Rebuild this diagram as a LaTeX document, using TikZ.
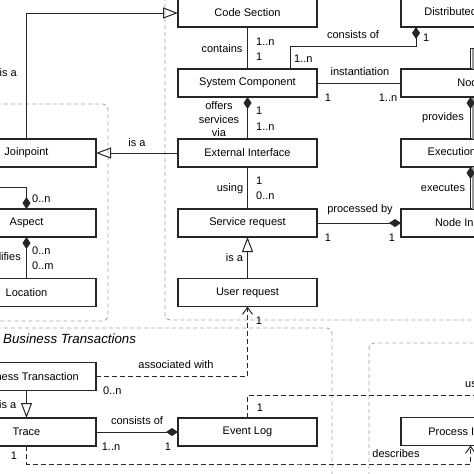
\documentclass[tikz,border=0pt]{standalone}
\usepackage{fontspec}
\setmainfont{Liberation Sans}
\usetikzlibrary{arrows.meta}
\begin{document}
\begin{tikzpicture}[x=1pt,y=-1pt,
  box/.style={draw=black!85, line width=1.1pt, minimum width=139pt, minimum height=28pt, inner sep=0pt, outer sep=0pt, font=\fontsize{11}{13}\selectfont},
  lbl/.style={inner sep=0pt, font=\fontsize{11}{13}\selectfont},
  conn/.style={draw=black!85, line width=1pt},
  dep/.style={conn, dash pattern=on 5pt off 3pt},
  region/.style={draw=black!35, line width=0.9pt, dash pattern=on 4pt off 3pt, rounded corners=5pt},
  gen/.style={-{Triangle[open,length=15pt,width=11pt,line width=1pt]}},
  comp/.style={-{Diamond[length=12pt,width=8pt]}},
  barb/.style={-{Straight Barb[length=7pt,width=10pt,line width=1pt]}}]
\useasboundingbox (0,0) rectangle (474,474);
\clip (0,0) rectangle (474,474);
\fill[white] (0,0) rectangle (474,474);

% regions
\draw[region] (-10,104) -- (108,104) -- (108,321) -- (-10,321);
\draw[region] (165,-10) -- (165,320) -- (490,320);
\draw[region] (-10,328) -- (332,328) -- (332,490);
\draw[region] (369,490) -- (369,343) -- (490,343);

% boxes
\node[box] (cs)   at (247.5,13)    {Code Section};
\node[box] (ds)   at (470.5,13)    {Distributed System};
\node[box] (sc)   at (247.5,83)    {System Component};
\node[box] (nd)   at (470.5,83)    {Node};
\node[box] (ei)   at (247.5,153)   {External Interface};
\node[box] (exe)  at (470.5,153)   {Execution Engine};
\node[box] (sr)   at (247.5,223)   {Service request};
\node[box] (ni)   at (470.5,223)   {Node Instance};
\node[box] (ur)   at (247.5,292.5) {User request};
\node[box] (jp)   at (26.5,153)    {Joinpoint};
\node[box] (asp)  at (26.5,223)    {Aspect};
\node[box] (loc)  at (26.5,292.5)  {Location};
\node[box] (bt)   at (26.5,376.5)  {Business Transaction};
\node[box] (tr)   at (26.5,432)    {Trace};
\node[box] (el)   at (247.5,432)   {Event Log};
\node[box] (pi)   at (470.5,431.5) {Process Instance};

% right edge strips
\fill[black!40] (472,48) rectangle (474,69);
\fill[black!40] (472,98) rectangle (474,139);
\fill[black!40] (472,167) rectangle (474,209);

% coordinates for free ends
\coordinate (dn) at (480,48);
\coordinate (aspin) at (-10,187);
\coordinate (dsc) at (300,464);
\coordinate (uc) at (480,395);

% connectors
\draw[conn] (sc.north) -- (cs.south);
\draw[conn,comp] ([xshift=43pt]sc.north) |- (416,46) -- ([xshift=-54.5pt]ds.south);
\draw[conn] (sc.east) -- (nd.west);
\draw[conn] (dn) -| (nd.north);
\draw[conn,comp] (exe.north) -- (nd.south);
\draw[conn,comp] (ni.north) -- (exe.south);
\draw[conn,comp] (ei.north) -- (sc.south);
\draw[conn,gen] (jp.north) |- (cs.west);
\draw[conn,gen] (ei.west) -- (jp.east);
\draw[conn] (ei.south) -- (sr.north);
\draw[conn,comp] (sr.east) -- (ni.west);
\draw[conn,gen] (ur.north) -- (sr.south);
\draw[conn,comp] (aspin) -| (asp.north);
\draw[conn,comp] (loc.north) -- (asp.south);
\draw[dep,barb] (bt.east) -| (ur.south);
\draw[conn,gen] (bt.south) -- (tr.north);
\draw[conn,comp] (tr.east) -- (el.west);
\draw[dep,barb] (tr.south) |- (dsc) -| (pi.south);
\draw[dep] (el.north) |- (uc);

% labels
\node[lbl] at (222,49) {contains};
\node[lbl,anchor=west] at (256,42) {1..n};
\node[lbl,anchor=west] at (256,57) {1};
\node[lbl] at (353,35) {consists of};
\node[lbl,anchor=west] at (423,38) {1};
\node[lbl,anchor=west] at (294,59) {1..n};
\node[lbl] at (360,72) {instantiation};
\node[lbl] at (328,98) {1};
\node[lbl] at (388,98) {1..n};
\node[lbl,align=center,font=\fontsize{11}{13.5}\selectfont] at (219,119.5) {offers\\services\\via};
\node[lbl,anchor=west] at (256,111) {1};
\node[lbl,anchor=west] at (256,127) {1..n};
\node[lbl] at (137,143) {is a};
\node[lbl,anchor=east] at (17,73) {is a};
\node[lbl] at (230,189) {using};
\node[lbl,anchor=west] at (256,181) {1};
\node[lbl,anchor=west] at (256,196) {0..n};
\node[lbl] at (360,210) {processed by};
\node[lbl] at (328,238) {1};
\node[lbl] at (392,238) {1};
\node[lbl] at (234.5,258) {is a};
\node[lbl] at (443,118) {provides};
\node[lbl] at (443,188) {executes};
\node[lbl,anchor=west] at (32,199) {0..n};
\node[lbl,anchor=west] at (32,251) {0..n};
\node[lbl,anchor=west] at (32,266) {0..m};
\node[lbl,anchor=east] at (21,258) {qualifies};
\node[lbl,anchor=west,font=\fontsize{13.3}{15}\selectfont\itshape] at (3,339) {Business Transactions};
\node[lbl] at (176,365) {associated with};
\node[lbl,anchor=west] at (103,391) {0..n};
\node[lbl] at (259,321) {1};
\node[lbl,anchor=east] at (16.5,405) {is a};
\node[lbl] at (137,421) {consists of};
\node[lbl] at (111,447) {1..n};
\node[lbl] at (168,447) {1};
\node[lbl] at (14,456) {1};
\node[lbl] at (260,408) {1};
\node[lbl,anchor=west] at (465,385) {uses};
\node[lbl] at (396,454) {describes};
\end{tikzpicture}
\end{document}
